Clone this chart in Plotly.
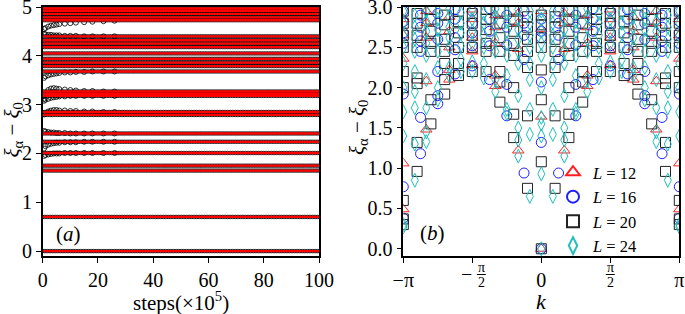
import numpy as np
import plotly.graph_objects as go

# ---------------- data: panel (a) ----------------
levels_a = [0.0, 0.70, 1.65, 1.75, 2.01, 2.24, 2.41, 2.79, 2.85,
            3.18, 3.22, 3.27, 3.68, 3.79, 3.86, 3.94, 4.05, 4.18,
            4.25, 4.32, 4.40, 4.73, 4.79, 4.86, 4.92, 4.97]
steps_a = np.linspace(0, 100, 170)
# transient (early-step) estimates
trans_x = [0.5, 1, 2, 3, 4, 5, 6, 8, 10, 12, 15, 18, 22, 26]
trans_y = {
    4.73: [4.55, 4.57, 4.60, 4.62, 4.63, 4.64, 4.65, 4.66, 4.67, 4.68, 4.69, 4.70, 4.71, 4.72],
    4.40: [4.45, 4.44, 4.43, 4.43, 4.42, 4.42, 4.42, 4.41, 4.41, 4.41, 4.40, 4.40, 4.40, 4.40],
    3.68: [3.55, 3.58, 3.60, 3.62, 3.63, 3.64, 3.65, 3.66, 3.66, 3.67, 3.67, 3.68, 3.68, 3.68],
    3.27: [3.12, 3.20, 3.30, 3.33, 3.34, 3.33, 3.32, 3.31, 3.30, 3.29, 3.28, 3.28, 3.27, 3.27],
    3.18: [3.08, 3.10, 3.12, 3.14, 3.15, 3.16, 3.17, 3.17, 3.18, 3.18, 3.18, 3.18, 3.18, 3.18],
    2.85: [2.80, 2.83, 2.86, 2.88, 2.89, 2.89, 2.88, 2.88, 2.87, 2.87, 2.86, 2.86, 2.85, 2.85],
    2.41: [2.46, 2.45, 2.44, 2.43, 2.43, 2.42, 2.42, 2.42, 2.41, 2.41, 2.41, 2.41, 2.41, 2.41],
    2.24: [2.10, 2.15, 2.18, 2.20, 2.21, 2.22, 2.22, 2.23, 2.23, 2.23, 2.24, 2.24, 2.24, 2.24],
    2.01: [1.95, 1.97, 1.98, 1.99, 2.00, 2.00, 2.00, 2.01, 2.01, 2.01, 2.01, 2.01, 2.01, 2.01],
}

# ---------------- data: panel (b) ----------------
# values for momentum index n = 0..L/2 (k = 2*pi*n/L), mirrored to negative n
L_sizes = [12, 16, 20, 24]
spec_L12 = [
    [0.0, 1.64, 2.73, 2.95],
    [1.22, 2.48, 2.80, 2.92],
    [2.02, 2.15, 2.55, 2.75, 2.90],
    [2.28, 2.45, 2.62, 2.85, 2.97],
    [2.10, 2.22, 2.50, 2.70, 2.88],
    [1.48, 2.08, 2.62, 2.80, 2.95],
    [0.49, 1.06, 2.36, 2.65, 2.85],
]
spec_L16 = [
    [0.0, 1.32, 2.07, 2.62, 2.70, 2.85],
    [0.94, 2.35, 2.65, 2.80, 2.95],
    [1.65, 2.04, 2.53, 2.75, 2.90],
    [2.10, 2.52, 2.70, 2.85, 2.98],
    [2.27, 2.52, 2.68, 2.80, 2.95],
    [2.17, 2.47, 2.62, 2.85, 2.97],
    [1.80, 1.90, 2.20, 2.60, 2.80, 2.92],
    [1.18, 1.63, 2.45, 2.58, 2.75, 2.90],
    [0.38, 0.77, 1.92, 2.55, 2.68, 2.82, 2.95],
]
spec_L20 = [
    [0.0, 1.08, 1.85, 2.22, 2.50, 2.62, 2.78, 2.90],
    [0.75, 1.65, 2.25, 2.45, 2.60, 2.75, 2.88],
    [1.38, 1.67, 2.00, 2.40, 2.55, 2.70, 2.85, 2.95],
    [1.82, 2.07, 2.20, 2.45, 2.62, 2.80, 2.95],
    [2.20, 2.45, 2.55, 2.72, 2.85, 2.97],
    [2.20, 2.50, 2.65, 2.80, 2.92],
    [2.15, 2.30, 2.50, 2.68, 2.82, 2.95],
    [1.92, 2.10, 2.30, 2.45, 2.60, 2.78, 2.90],
    [1.55, 1.85, 2.45, 2.55, 2.70, 2.85, 2.97],
    [0.96, 1.32, 2.05, 2.12, 2.50, 2.65, 2.80, 2.92],
    [0.30, 0.37, 0.60, 2.00, 2.20, 2.50, 2.65, 2.80, 2.95],
]
spec_L24 = [
    [0.0, 0.93, 1.40, 1.55, 1.63, 2.00, 2.40, 2.55, 2.70, 2.85, 2.95],
    [0.65, 1.42, 1.73, 2.10, 2.30, 2.50, 2.65, 2.80, 2.95],
    [1.15, 1.35, 1.50, 1.90, 2.30, 2.45, 2.60, 2.72, 2.85, 2.97],
    [1.68, 1.73, 2.15, 2.40, 2.55, 2.70, 2.82, 2.93],
    [1.95, 2.10, 2.45, 2.60, 2.75, 2.88, 2.98],
    [2.12, 2.30, 2.50, 2.65, 2.80, 2.92],
    [2.20, 2.32, 2.55, 2.70, 2.85, 2.97],
    [2.20, 2.35, 2.52, 2.68, 2.80, 2.93],
    [2.15, 2.25, 2.50, 2.62, 2.75, 2.88, 2.98],
    [1.85, 2.00, 2.25, 2.45, 2.60, 2.72, 2.85, 2.95],
    [1.33, 1.45, 1.75, 2.10, 2.40, 2.55, 2.70, 2.82, 2.95],
    [0.85, 1.30, 1.75, 1.95, 2.20, 2.45, 2.60, 2.75, 2.90],
    [0.27, 0.30, 1.40, 1.70, 2.00, 2.30, 2.50, 2.65, 2.80, 2.95],
]
spectra = [spec_L12, spec_L16, spec_L20, spec_L24]
series_names = ["<i>L</i> = 12", "<i>L</i> = 16", "<i>L</i> = 20", "<i>L</i> = 24"]
series_symbols = ["triangle-up-open", "circle-open", "square-open", "diamond-tall-open"]
series_colors = ["#ff2020", "#1f1fff", "#222222", "#1fbfbf"]
series_sizes = [10, 10, 10, 10]

x_ticks_a = [0, 20, 40, 60, 80, 100]
y_ticks_a = [0, 1, 2, 3, 4, 5]
y_ticks_b = [0, 0.5, 1, 1.5, 2, 2.5, 3]

FONT = "Liberation Serif"
W, H = 685, 314

fig = go.Figure()

# panel (a)
for lv in levels_a:
    fig.add_trace(go.Scatter(x=steps_a, y=np.full(len(steps_a), lv), mode="markers",
                             marker=dict(symbol="circle-open", size=3.5, color="black",
                                         line=dict(width=0.7)),
                             showlegend=False, xaxis="x", yaxis="y", hoverinfo="skip"))
for lv, ty in trans_y.items():
    fig.add_trace(go.Scatter(x=trans_x, y=ty, mode="markers",
                             marker=dict(symbol="circle-open", size=5, color="black",
                                         line=dict(width=0.8)),
                             showlegend=False, xaxis="x", yaxis="y", hoverinfo="skip"))
for lv in levels_a:
    fig.add_trace(go.Scatter(x=[0, 100], y=[lv, lv], mode="lines",
                             line=dict(color="#ff0000", width=2.3),
                             showlegend=False, xaxis="x", yaxis="y", hoverinfo="skip"))

# panel (b)
for L, spec, name, sym, col, sz in zip(L_sizes, spectra, series_names,
                                       series_symbols, series_colors, series_sizes):
    ks, vs = [], []
    for n, vals in enumerate(spec):
        for sgn in ([1] if n == 0 else [1, -1]):
            for v in vals:
                ks.append(sgn * 2 * np.pi * n / L)
                vs.append(v)
    fig.add_trace(go.Scatter(x=ks, y=vs, mode="markers", name=name,
                             marker=dict(symbol=sym, size=sz, color=col,
                                         line=dict(width=1, color=col)),
                             xaxis="x2", yaxis="y2", cliponaxis=True))

axis_common = dict(showline=True, linecolor="black", linewidth=1.5, mirror=True,
                   ticks="outside", ticklen=5, tickwidth=1.2, tickcolor="black",
                   showgrid=False, zeroline=False, automargin=False,
                   ticklabeloverflow="allow",
                   tickfont=dict(family=FONT, size=20, color="black"))

ylab = "<i>ξ</i><sub>α</sub> − <i>ξ</i><sub>0</sub>"
y_dom = [1 - 256 / H, 1 - 7 / H]
fig.update_layout(
    width=W, height=H,
    margin=dict(l=0, r=0, t=0, b=0, autoexpand=False),
    paper_bgcolor="white", plot_bgcolor="white",
    font=dict(family=FONT, color="black"),
    xaxis=dict(domain=[42.7 / W, 319 / W], range=[0, 100.001], tickvals=x_ticks_a,
               anchor="y", **axis_common),
    yaxis=dict(domain=y_dom, range=[-0.1, 5.001], tickvals=y_ticks_a,
               anchor="x", **axis_common),
    xaxis2=dict(domain=[403.3 / W, 679.3 / W], range=[-np.pi - 1e-4, np.pi + 1e-4],
                tickvals=[-np.pi, -np.pi / 2, 0, np.pi / 2, np.pi],
                ticktext=["−π", " ", "0", " ", "π"],
                anchor="y2", **axis_common),
    yaxis2=dict(domain=y_dom, range=[-0.09, 3.001], tickvals=y_ticks_b,
                tickformat=".1f",
                anchor="x2", **axis_common),
    legend=dict(x=553 / W, y=1 - 155 / H, xanchor="left", yanchor="top",
                bgcolor="rgba(255,255,255,0)", font=dict(family=FONT, size=16.5),
                itemsizing="constant", tracegroupgap=0, itemwidth=30),
)

annots = [
    dict(text="(<i>a</i>)", xref="x", yref="y", x=4, y=0.35, xanchor="left",
         showarrow=False, font=dict(family=FONT, size=21)),
    dict(text="(<i>b</i>)", xref="x2", yref="y2", x=-2.8, y=0.2, xanchor="left",
         showarrow=False, font=dict(family=FONT, size=21)),
    # axis titles
    dict(text=ylab, xref="paper", yref="paper", x=12.5 / W, y=1 - 130 / H, textangle=-90,
         xanchor="center", yanchor="middle", showarrow=False, font=dict(family=FONT, size=21)),
    dict(text=ylab, xref="paper", yref="paper", x=358 / W, y=1 - 128 / H, textangle=-90,
         xanchor="center", yanchor="middle", showarrow=False, font=dict(family=FONT, size=21)),
    dict(text="steps(×10<sup>5</sup>)", xref="paper", yref="paper", x=181 / W, y=1 - 301 / H,
         xanchor="center", yanchor="middle", showarrow=False, font=dict(family=FONT, size=21)),
    dict(text="<i>k</i>", xref="paper", yref="paper", x=541 / W, y=1 - 301 / H,
         xanchor="center", yanchor="middle", showarrow=False, font=dict(family=FONT, size=22)),
]
shapes = []
# stacked fraction tick labels for ±π/2
for kv, shift in [(-np.pi / 2, 9), (np.pi / 2, 0)]:
    annots.append(dict(text="π", xref="x2", yref="paper", x=kv, y=1 - 267 / H, xshift=shift,
                       yanchor="middle", xanchor="center",
                       showarrow=False, font=dict(family=FONT, size=14)))
    annots.append(dict(text="2", xref="x2", yref="paper", x=kv, y=1 - 282 / H, xshift=shift,
                       yanchor="middle", xanchor="center",
                       showarrow=False, font=dict(family=FONT, size=14)))
    shapes.append(dict(type="line", xref="x2", yref="paper",
                       x0=kv + (shift - 4.5) * 0.0228, x1=kv + (shift + 4.5) * 0.0228,
                       y0=1 - 274.5 / H, y1=1 - 274.5 / H, line=dict(color="black", width=1)))
annots.append(dict(text="−", xref="x2", yref="paper", x=-np.pi / 2, y=1 - 274 / H, xshift=-6,
                   yanchor="middle", xanchor="center",
                   showarrow=False, font=dict(family=FONT, size=20)))
fig.update_layout(annotations=annots, shapes=shapes)

fig.write_html("out.html", config={"displayModeBar": False},
               post_script="document.body.style.margin='0px';")
